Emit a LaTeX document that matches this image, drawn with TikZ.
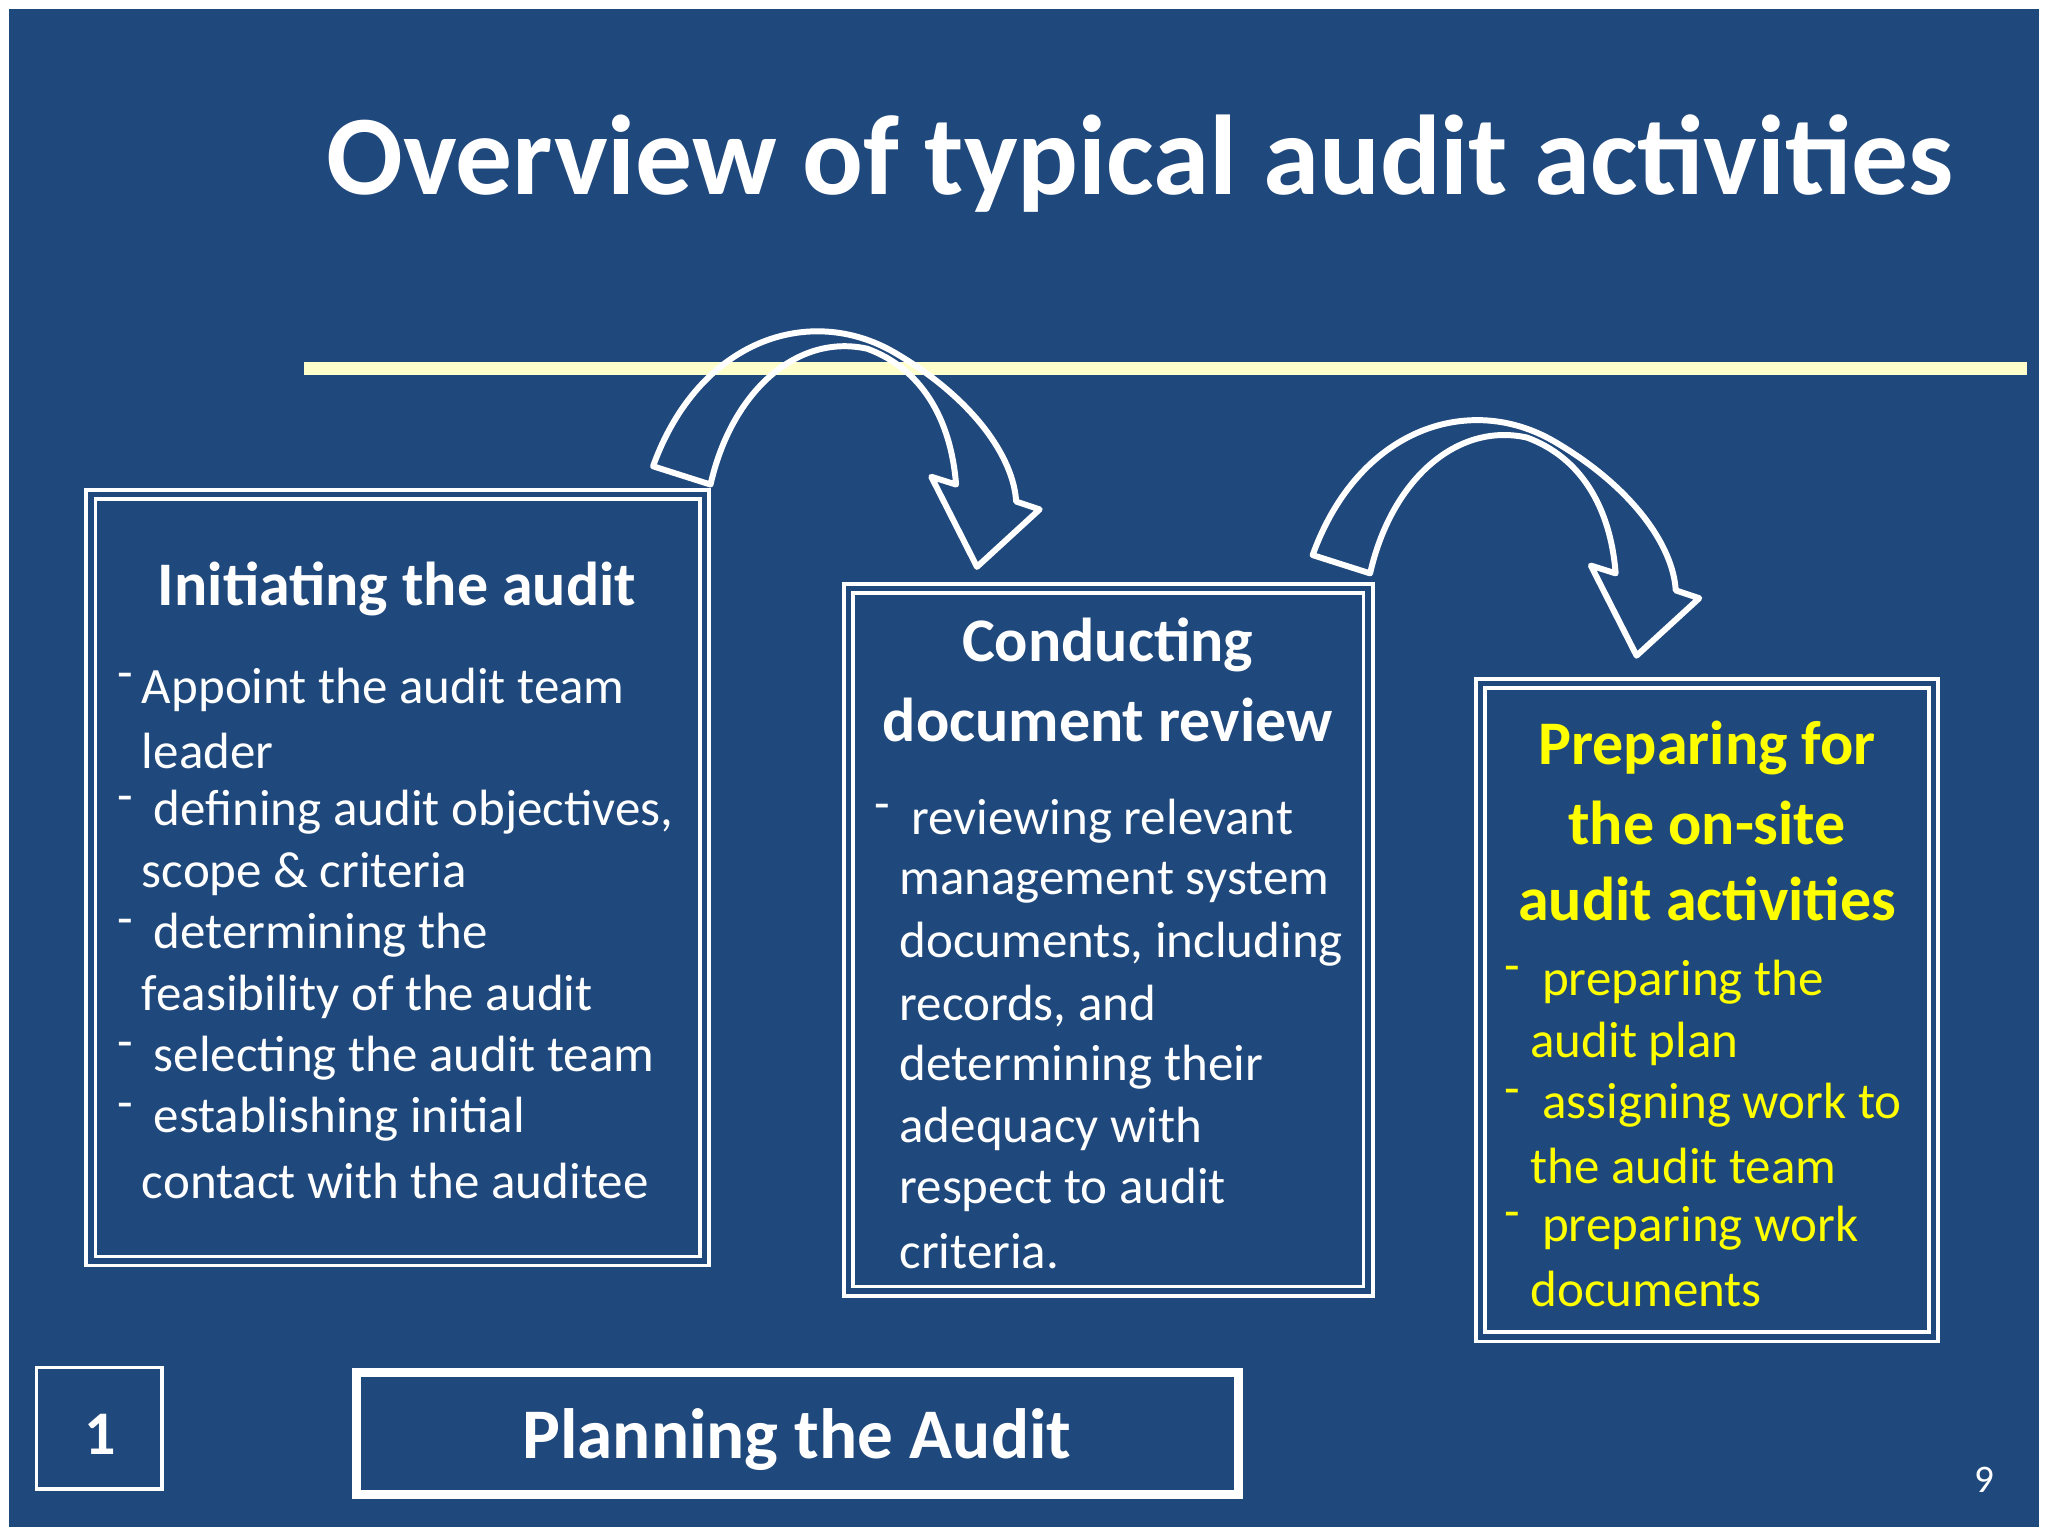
\documentclass[tikz,border=0pt]{standalone}
\usepackage{fontspec}
\setmainfont{Carlito}
\definecolor{bg}{HTML}{1F487C}
\definecolor{ln}{HTML}{FFFFCC}
\definecolor{yl}{HTML}{FFFF00}
\begin{document}
\begin{tikzpicture}[x=0.01cm,y=-0.01cm,
 body/.style={anchor=west,inner sep=0,font=\fontsize{11.1}{13}\selectfont,text=white},
 ybody/.style={body,text=yl},
 head/.style={inner sep=0,font=\bfseries\fontsize{13.5}{16}\selectfont,text=white},
 dsh/.style={anchor=west,inner sep=0,font=\fontsize{11.1}{13}\selectfont,text=white},
 dbl/.style={draw=white,line width=0.8pt},
 arr/.style={draw=white,line width=1.3pt,line join=round,fill=none}]
\useasboundingbox (0,0) rectangle (1568,1176);
\fill[white] (0,0) rectangle (1568,1176);
\fill[bg] (7,7) rectangle (1561,1169);
\node[inner sep=0,font=\bfseries\fontsize{24.7}{28}\selectfont,text=white] (title) at (873,125) {Overview of typical audit activities};
\fill[ln] (233,277) rectangle (1552,287);
% boxes
\draw[dbl] (66,375) rectangle (543,969);
\draw[dbl] (73,382) rectangle (536,962);
\draw[dbl] (646,447) rectangle (1051,992);
\draw[dbl] (653,454) rectangle (1044,985);
\draw[dbl] (1130,520) rectangle (1484,1027);
\draw[dbl] (1137,527) rectangle (1477,1020);
% arrows
\foreach \dx/\dy in {0/0,505/68}{
\begin{scope}[shift={(\dx,\dy)}]
\draw[arr] (500,357) .. controls (535,260) and (620,232) .. (685,270)
  .. controls (745,305) and (776,350) .. (778,384) -- (796,390) -- (748,434)
  -- (713,365) -- (732,371) .. controls (728,320) and (705,282) .. (664,267)
  .. controls (610,255) and (560,300) .. (544,371) -- cycle;
\end{scope}}
% box 1
\node[head] (h1) at (304,451) {Initiating the audit};
\node[dsh] (d1) at (89,522) {-};
\node[body] (a1) at (108,528) {Appoint the audit team};
\node[body] (a2) at (108,575) {leader};
\node[dsh] (d2) at (89,616) {-};
\node[body] (a3) at (117,622) {defining audit objectives,};
\node[body] (a4) at (108,669) {scope \& criteria};
\node[dsh] (d3) at (89,710) {-};
\node[body] (a5) at (117,716) {determining the};
\node[body] (a6) at (108,763) {feasibility of the audit};
\node[dsh] (d4) at (89,804) {-};
\node[body] (a7) at (117,810) {selecting the audit team};
\node[dsh] (d5) at (89,851) {-};
\node[body] (a8) at (117,857) {establishing initial};
\node[body] (a9) at (108,904) {contact with the auditee};
% box 2
\node[head] (h2a) at (848,494) {Conducting};
\node[head] (h2b) at (848,551) {document review};
\node[dsh] (e1) at (669,622) {-};
\node[body] (b1) at (697,629) {reviewing relevant};
\node[body] (b2) at (688,676) {management system};
\node[body] (b3) at (688,723) {documents, including};
\node[body] (b4) at (688,770) {records, and};
\node[body] (b5) at (688,817) {determining their};
\node[body] (b6) at (688,864) {adequacy with};
\node[body] (b7) at (688,911) {respect to audit};
\node[body] (b8) at (688,958) {criteria.};
% box 3
\node[head,text=yl] (h3a) at (1307,573) {Preparing for};
\node[head,text=yl] (h3b) at (1307,630) {the on-site};
\node[head,text=yl] (h3c) at (1307,688) {audit activities};
\node[dsh,text=yl] (f1) at (1151,746) {-};
\node[ybody] (c1) at (1180,752) {preparing the};
\node[ybody] (c2) at (1171,799) {audit plan};
\node[dsh,text=yl] (f2) at (1151,840) {-};
\node[ybody] (c3) at (1180,846) {assigning work to};
\node[ybody] (c4) at (1171,893) {the audit team};
\node[dsh,text=yl] (f3) at (1151,934) {-};
\node[ybody] (c5) at (1180,940) {preparing work};
\node[ybody] (c6) at (1171,987) {documents};
% bottom
\draw[white,line width=0.8pt] (28,1047) rectangle (124,1140);
\node[head] (one) at (77,1098) {1};
\draw[white,line width=2pt] (273,1051) rectangle (948,1144);
\node[inner sep=0,font=\bfseries\fontsize{15.5}{18}\selectfont,text=white] (plan) at (610,1102) {Planning the Audit};
\node[inner sep=0,font=\fontsize{8.5}{10}\selectfont,text=white] (pg) at (1519,1133) {9};
\end{tikzpicture}
\end{document}
